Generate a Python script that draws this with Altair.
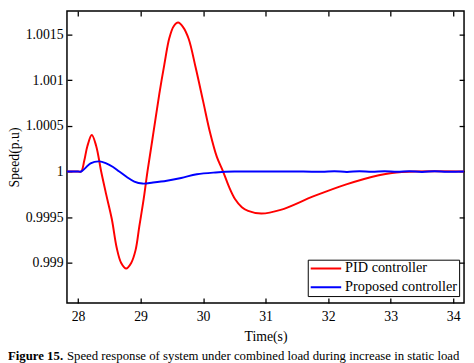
import altair as alt
import pandas as pd

# ---- data ----
t_pid = [27.82, 28.00, 28.05, 28.10, 28.15, 28.22, 28.29, 28.37, 28.45, 28.54, 28.62, 28.69,
         28.77, 28.85, 28.92, 28.98, 29.05, 29.11, 29.20, 29.30, 29.38, 29.46, 29.53, 29.60,
         29.68, 29.77, 29.88, 30.00, 30.11, 30.22, 30.32, 30.41, 30.51, 30.62, 30.72, 30.93,
         31.24, 31.77, 32.29, 32.81, 33.02, 33.40, 34.17]
v_pid = [1.0, 1.0, 1.0, 1.00012, 1.00028, 1.00040, 1.00028, 1.0, 0.99975, 0.99948, 0.99916, 0.99900,
         0.998939, 0.99900, 0.99914, 0.99940, 0.99970, 1.0, 1.00040, 1.00085, 1.00117, 1.00146, 1.00159, 1.00163,
         1.00158, 1.00145, 1.00114, 1.00077, 1.00043, 1.00016, 1.0, 0.99984, 0.99970, 0.99961, 0.99957, 0.99954,
         0.99958, 0.99973, 0.99986, 0.99996, 0.999985, 1.0, 1.0]

t_prop = [27.82, 28.00, 28.05, 28.12, 28.20, 28.34, 28.45, 28.56, 28.66, 28.78, 28.90, 29.03,
          29.20, 29.42, 29.65, 29.90, 30.20, 30.50, 31.00, 31.60, 31.90, 32.10, 32.30, 32.50,
          32.70, 32.90, 33.10, 33.30, 33.50, 33.70, 33.90, 34.17]
v_prop = [1.0, 1.0, 1.0, 1.00004, 1.00009, 1.000111, 1.00009, 1.00005, 1.0, 0.99994, 0.99989, 0.999868,
          0.99988, 0.99990, 0.99993, 0.99997, 0.99999, 1.0, 1.0, 1.0, 0.999997, 1.000003, 0.999996, 1.000003,
          0.999997, 1.000004, 0.999997, 1.000003, 0.999996, 1.000003, 0.999998, 1.0]

series = ["PID controller", "Proposed controller"]
colors = ["#ff0000", "#0000ff"]
x_ticks = [28, 29, 30, 31, 32, 33, 34]
y_ticks = [0.999, 0.9995, 1.0, 1.0005, 1.001, 1.0015]
caption_bold = ["Figure 15."]
caption_text = ["Speed response of system under combined load during increase in static load"]

df = pd.concat([
    pd.DataFrame({"t": t_pid, "v": v_pid, "series": series[0]}),
    pd.DataFrame({"t": t_prop, "v": v_prop, "series": series[1]}),
])

FONT = "Liberation Serif"
xs = alt.Scale(domain=[27.823, 34.173], nice=False, zero=False)
ys = alt.Scale(domain=[0.998562, 1.001756], nice=False, zero=False)

lines = alt.Chart(df).mark_line(strokeWidth=2, interpolate="catmull-rom", clip=True).encode(
    x=alt.X("t:Q", scale=xs, axis=alt.Axis(
        values=x_ticks, title="Time(s)", offset=-5, tickSize=5, domain=False, grid=False,
        labelPadding=7, titlePadding=6, format="d")),
    y=alt.Y("v:Q", scale=ys, axis=alt.Axis(
        values=y_ticks, title="Speed(p.u)", offset=-5, tickSize=5, domain=False, grid=False,
        labelPadding=4, titlePadding=4, format=".4~f")),
    color=alt.Color("series:N", scale=alt.Scale(domain=series, range=colors), legend=alt.Legend(
        title=None, orient="none", legendX=245, legendY=253, symbolType="stroke",
        symbolSize=961, symbolStrokeWidth=2, clipHeight=14, rowPadding=4,
        labelOffset=3, strokeColor="black", fillColor="white", padding=2)),
    detail="series:N",
)

frame = alt.Chart(df).mark_line(opacity=0).encode(
    x=alt.X("t:Q", scale=xs, axis=alt.Axis(
        orient="top", values=x_ticks, labels=False, title=None, offset=-5, tickSize=5,
        domain=False, grid=False)),
    y=alt.Y("v:Q", scale=ys, axis=alt.Axis(
        orient="right", values=y_ticks, labels=False, title=None, offset=-5, tickSize=5,
        domain=False, grid=False)),
)

cap1 = alt.Chart(pd.DataFrame({"c": caption_bold})).mark_text(
    font=FONT, fontSize=13, fontWeight="bold", align="left", baseline="alphabetic", color="black"
).encode(text="c:N", x=alt.value(-60), y=alt.value(355))

cap2 = alt.Chart(pd.DataFrame({"c": caption_text})).mark_text(
    font=FONT, fontSize=13, align="left", baseline="alphabetic", color="black"
).encode(text="c:N", x=alt.value(0), y=alt.value(355))

chart = alt.layer(lines, frame, cap1, cap2).resolve_scale(
    x="independent", y="independent"
).properties(
    width=404, height=297,
    autosize=alt.AutoSizeParams(type="none"),
    padding={"left": 60, "top": 0, "right": 2, "bottom": 58},
    background="white",
).configure(
    font=FONT
).configure_axis(
    labelFont=FONT, labelFontSize=14, labelColor="black",
    titleFont=FONT, titleFontSize=14, titleFontWeight="normal", titleColor="black",
    tickColor="black", tickWidth=1.3,
).configure_legend(
    labelFont=FONT, labelFontSize=14.5, labelColor="black",
).configure_view(stroke="black", strokeWidth=1.5)

chart.save("out.html", embed_options={"renderer": "svg", "actions": False})
